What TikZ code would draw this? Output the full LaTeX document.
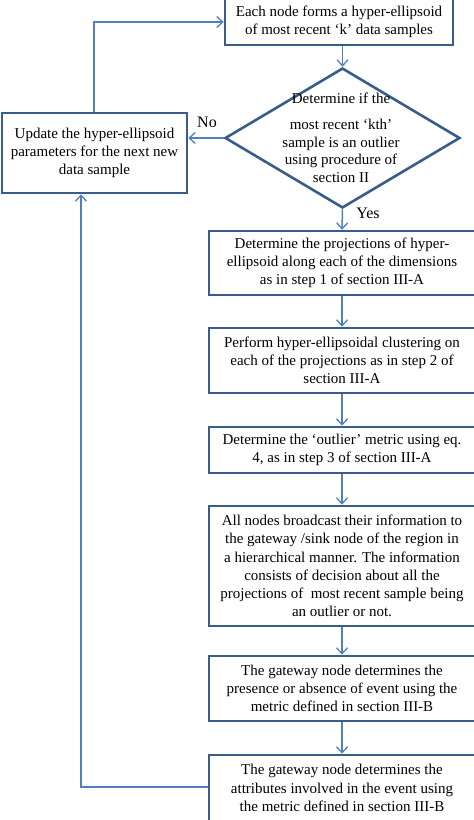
\documentclass[tikz,border=0pt]{standalone}
\usepackage{fontspec}
\setmainfont{Liberation Serif}
\usetikzlibrary{arrows.meta,positioning,shapes.geometric}
\definecolor{boxline}{RGB}{56,93,138}
\definecolor{arrline}{RGB}{79,129,189}
\tikzstyle{stepbox}=[draw=boxline,fill=white,line width=2.6pt,rectangle,align=center,inner sep=0pt,font=\fontsize{15}{18.2}\selectfont]
\tikzstyle{decision}=[draw=boxline,fill=white,line width=2.6pt,diamond,inner sep=0pt,minimum width=235pt,minimum height=140pt]
\tikzstyle{plain}=[align=center,inner sep=0pt,font=\fontsize{15}{17.7}\selectfont]
\tikzstyle{flow}=[draw=arrline,line width=1.5pt,-{Straight Barb[length=6pt,width=11pt,line width=1.3pt]}]

\begin{document}
\begin{tikzpicture}[x=1pt,y=-1pt]
\useasboundingbox (0,0) rectangle (474,820);
\node [stepbox, minimum width=228pt, minimum height=46pt] (form) at (339,22) {Each node forms a hyper-ellipsoid\\of most recent `k' data samples};
\node [decision] (outlier) at (342.5,138) {};
\node [plain] (outliertext) at (341,138) {Determine if the\\[8pt]most recent `kth'\\sample is an outlier\\using procedure of\\section II};
\node [stepbox, minimum width=185pt, minimum height=80pt] (update) at (94.5,153) {Update the hyper-ellipsoid\\parameters for the next new\\data sample};
\node [stepbox, minimum width=266pt, minimum height=64pt] (proj) at (342,263) {Determine the projections of hyper-\\ellipsoid along each of the dimensions\\as in step 1 of section III-A};
\node [stepbox, minimum width=266pt, minimum height=65pt] (clust) at (342,360.5) {Perform hyper-ellipsoidal clustering on\\each of the projections as in step 2 of\\section III-A};
\node [stepbox, minimum width=266pt, minimum height=46pt] (metric) at (342,450) {Determine the `outlier' metric using eq.\\4, as in step 3 of section III-A};
\node [stepbox, minimum width=266pt, minimum height=120pt] (bcast) at (342,566) {All nodes broadcast their information to\\the gateway /sink node of the region in\\a hierarchical manner. The information\\consists of decision about all the\\projections of~ most recent sample being\\an outlier or not.};
\node [stepbox, minimum width=266pt, minimum height=65pt] (event) at (342,688.5) {The gateway node determines the\\presence or absence of event using the\\metric defined in section III-B};
\node [stepbox, minimum width=266pt, minimum height=66pt] (attr) at (342,788) {The gateway node determines the\\attributes involved in the event using\\the metric defined in section III-B};

% main column
\draw [flow] (form.south -| outlier.north) -- (outlier.north);
\draw [flow] (outlier.south) -- (proj.north);
\draw [flow] (proj) -- (clust);
\draw [flow] (clust) -- (metric);
\draw [flow] (metric) -- (bcast);
\draw [flow] (bcast) -- (event);
\draw [flow] (event) -- (attr);
% branches
\draw [flow] (outlier.west) -- (outlier.west -| update.east);
\node [plain, font=\fontsize{16}{18}\selectfont] (no) at (207,122) {No};
\node [plain, font=\fontsize{16}{18}\selectfont] (yes) at (368,213) {Yes};
\draw [flow] (update.north -| 94,0) -- (94,22) -- (form.west);
\draw [flow] (attr.west |- 0,787) -- (81,787) -- (update.south -| 81,0);
\end{tikzpicture}
\end{document}
